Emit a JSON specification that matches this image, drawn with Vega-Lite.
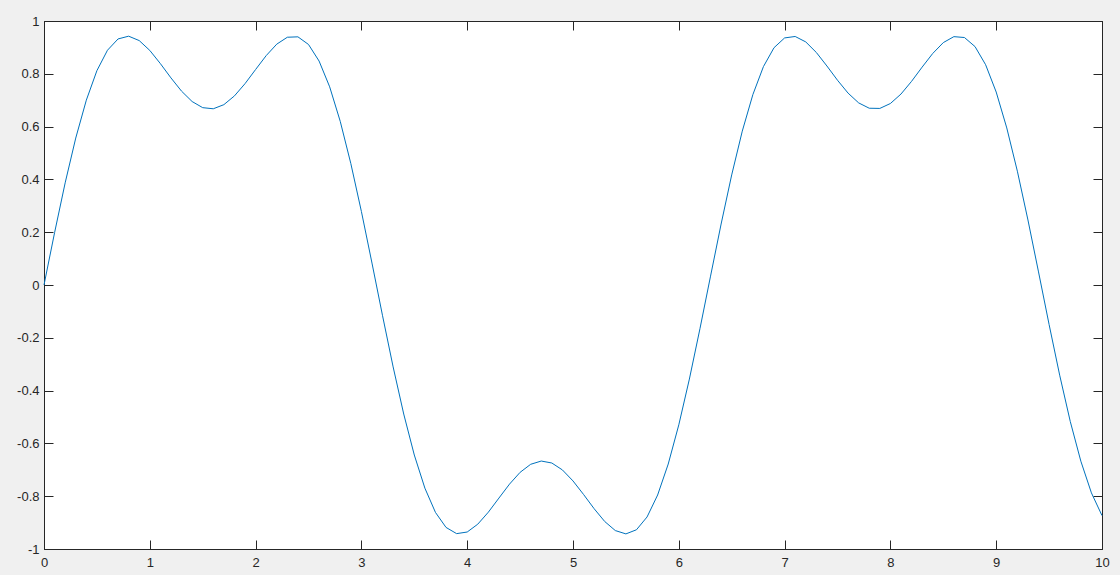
{
  "$schema": "https://vega.github.io/schema/vega-lite/v6.json",
  "width": 1058,
  "height": 528,
  "autosize": {"type": "none"},
  "padding": {"left": 44, "top": 21, "right": 18, "bottom": 26},
  "background": "#f0f0f0",
  "config": {
    "view": {"fill": "white", "stroke": "#262626", "strokeWidth": 1},
    "axis": {
      "grid": false,
      "domainColor": "#262626",
      "tickColor": "#262626",
      "tickSize": -9,
      "tickWidth": 1,
      "labelColor": "#262626",
      "labelFont": "Liberation Sans",
      "labelFontSize": 13,
      "labelFlush": false,
      "labelOverlap": false,
      "labelExpr": "replace(format(datum.value, '~g'), '\u2212', '-')"
    }
  },
  "data": {
    "values": [
      {"x": 0.0, "y": 0.0}, {"x": 0.1, "y": 0.1983}, {"x": 0.2, "y": 0.3869}, {"x": 0.3, "y": 0.5566},
      {"x": 0.4, "y": 0.7001}, {"x": 0.5, "y": 0.8119}, {"x": 0.6, "y": 0.8893}, {"x": 0.7, "y": 0.932},
      {"x": 0.8, "y": 0.9425}, {"x": 0.9, "y": 0.9258}, {"x": 1.0, "y": 0.8885}, {"x": 1.1, "y": 0.8386},
      {"x": 1.2, "y": 0.7845}, {"x": 1.3, "y": 0.7343}, {"x": 1.4, "y": 0.6949}, {"x": 1.5, "y": 0.6717},
      {"x": 1.6, "y": 0.6675}, {"x": 1.7, "y": 0.6831}, {"x": 1.8, "y": 0.7163}, {"x": 1.9, "y": 0.7627},
      {"x": 2.0, "y": 0.8162}, {"x": 2.1, "y": 0.8688}, {"x": 2.2, "y": 0.9123}, {"x": 2.3, "y": 0.9385},
      {"x": 2.4, "y": 0.94}, {"x": 2.5, "y": 0.9111}, {"x": 2.6, "y": 0.8483}, {"x": 2.7, "y": 0.7507},
      {"x": 2.8, "y": 0.6199}, {"x": 2.9, "y": 0.4602}, {"x": 3.0, "y": 0.2785}, {"x": 3.1, "y": 0.0831},
      {"x": 3.2, "y": -0.1165}, {"x": 3.3, "y": -0.3103}, {"x": 3.4, "y": -0.4888}, {"x": 3.5, "y": -0.644},
      {"x": 3.6, "y": -0.7695}, {"x": 3.7, "y": -0.8614}, {"x": 3.8, "y": -0.9183}, {"x": 3.9, "y": -0.9418},
      {"x": 4.0, "y": -0.9357}, {"x": 4.1, "y": -0.906}, {"x": 4.2, "y": -0.8604}, {"x": 4.3, "y": -0.807},
      {"x": 4.4, "y": -0.7542}, {"x": 4.5, "y": -0.7096}, {"x": 4.6, "y": -0.6791}, {"x": 4.7, "y": -0.6668},
      {"x": 4.8, "y": -0.6743}, {"x": 4.9, "y": -0.7005}, {"x": 5.0, "y": -0.7422}, {"x": 5.1, "y": -0.7936},
      {"x": 5.2, "y": -0.8475}, {"x": 5.3, "y": -0.8959}, {"x": 5.4, "y": -0.9302}, {"x": 5.5, "y": -0.9428},
      {"x": 5.6, "y": -0.9271}, {"x": 5.7, "y": -0.8787}, {"x": 5.8, "y": -0.7955}, {"x": 5.9, "y": -0.6781},
      {"x": 6.0, "y": -0.5297}, {"x": 6.1, "y": -0.3563}, {"x": 6.2, "y": -0.1654}, {"x": 6.3, "y": 0.0336},
      {"x": 6.4, "y": 0.231}, {"x": 6.5, "y": 0.417}, {"x": 6.6, "y": 0.5828}, {"x": 6.7, "y": 0.7212},
      {"x": 6.8, "y": 0.8274}, {"x": 6.9, "y": 0.8988}, {"x": 7.0, "y": 0.9359}, {"x": 7.1, "y": 0.9414},
      {"x": 7.2, "y": 0.9208}, {"x": 7.3, "y": 0.8808}, {"x": 7.4, "y": 0.8296}, {"x": 7.5, "y": 0.7756},
      {"x": 7.6, "y": 0.7268}, {"x": 7.7, "y": 0.6898}, {"x": 7.8, "y": 0.6696}, {"x": 7.9, "y": 0.6688},
      {"x": 8.0, "y": 0.6875}, {"x": 8.1, "y": 0.7233}, {"x": 8.2, "y": 0.7714}, {"x": 8.3, "y": 0.8253},
      {"x": 8.4, "y": 0.877}, {"x": 8.5, "y": 0.9182}, {"x": 8.6, "y": 0.9407}, {"x": 8.7, "y": 0.9374},
      {"x": 8.8, "y": 0.903}, {"x": 8.9, "y": 0.8344}, {"x": 9.0, "y": 0.7309}, {"x": 9.1, "y": 0.5949},
      {"x": 9.2, "y": 0.431}, {"x": 9.3, "y": 0.2463}, {"x": 9.4, "y": 0.0495}, {"x": 9.5, "y": -0.1497},
      {"x": 9.6, "y": -0.3416}, {"x": 9.7, "y": -0.5168}, {"x": 9.8, "y": -0.6673}, {"x": 9.9, "y": -0.7874},
      {"x": 10.0, "y": -0.8734}
    ]
  },
  "layer": [
    {
      "mark": {"type": "line", "color": "#0072bd", "strokeWidth": 1},
      "encoding": {
        "x": {
          "field": "x",
          "type": "quantitative",
          "title": null,
          "scale": {"domain": [0, 10], "nice": false, "zero": false},
          "axis": {
            "orient": "bottom",
            "values": [0, 1, 2, 3, 4, 5, 6, 7, 8, 9, 10],
            "labelPadding": 16
          }
        },
        "y": {
          "field": "y",
          "type": "quantitative",
          "title": null,
          "scale": {"domain": [-1, 1], "nice": false},
          "axis": {
            "orient": "left",
            "values": [-1, -0.8, -0.6, -0.4, -0.2, 0, 0.2, 0.4, 0.6, 0.8, 1],
            "labelPadding": 14
          }
        }
      }
    },
    {
      "mark": {"type": "line", "strokeOpacity": 0},
      "encoding": {
        "x": {
          "field": "x",
          "type": "quantitative",
          "title": null,
          "scale": {"domain": [0, 10], "nice": false, "zero": false},
          "axis": {
            "orient": "top",
            "values": [0, 1, 2, 3, 4, 5, 6, 7, 8, 9, 10],
            "labels": false
          }
        },
        "y": {
          "field": "y",
          "type": "quantitative",
          "title": null,
          "scale": {"domain": [-1, 1], "nice": false},
          "axis": {
            "orient": "right",
            "values": [-1, -0.8, -0.6, -0.4, -0.2, 0, 0.2, 0.4, 0.6, 0.8, 1],
            "labels": false
          }
        }
      }
    }
  ],
  "resolve": {"axis": {"x": "independent", "y": "independent"}}
}
